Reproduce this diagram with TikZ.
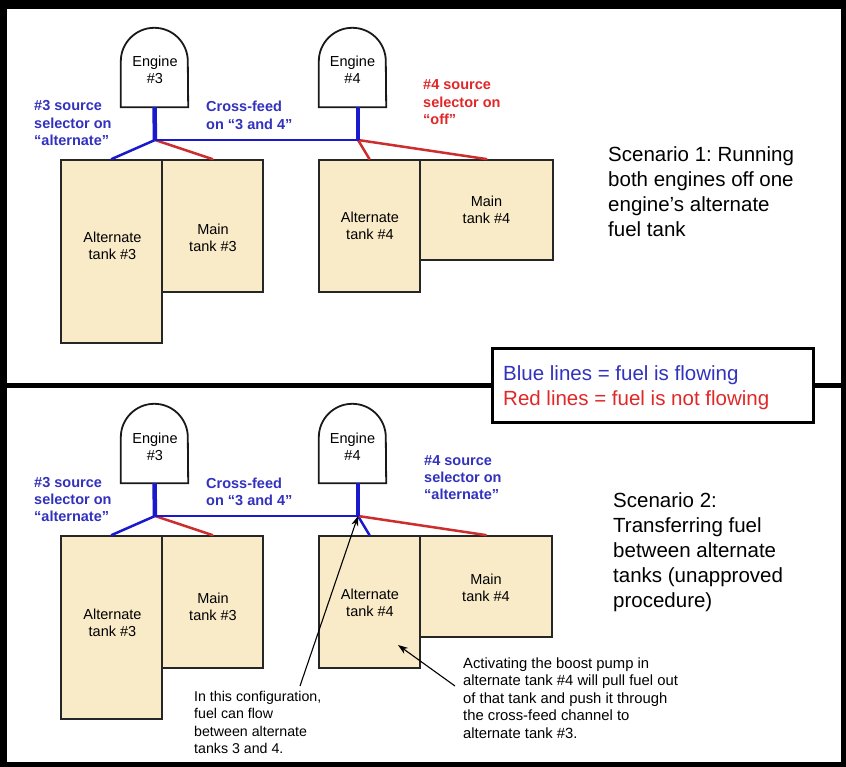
\documentclass[tikz,border=0pt]{standalone}
\usepackage{fontspec}
\setmainfont{Liberation Sans}
\usetikzlibrary{arrows.meta}
\definecolor{tankfill}{RGB}{250,235,200}
\definecolor{flowblue}{RGB}{25,25,205}
\definecolor{labelblue}{RGB}{50,50,190}
\definecolor{noflowred}{RGB}{205,45,45}
\definecolor{labelred}{RGB}{225,40,40}
\newcommand\ctext[1]{\vtop{\halign{\hfil##\hfil\cr#1\crcr}}}
\newcommand\ltext[1]{\vtop{\halign{##\hfil\cr#1\crcr}}}
\tikzset{
  tankbox/.style={draw=black!85, line width=1.8pt, fill=tankfill, inner sep=0pt},
  enginebody/.style={inner sep=0pt, minimum width=67pt, minimum height=45.5pt},
  engineline/.style={draw=black!90, line width=1.8pt, fill=white},
  engtext/.style={inner sep=0pt, anchor=base, font=\fontsize{14.5}{17}\selectfont},
  tanktext/.style={inner sep=0pt, anchor=base, font=\fontsize{14.5}{17}\selectfont},
  bluelabel/.style={inner sep=0pt, anchor=base west, text=labelblue, font=\fontsize{14.5}{17.3}\selectfont\bfseries},
  redlabel/.style={inner sep=0pt, anchor=base west, text=labelred, font=\fontsize{14.5}{17.3}\selectfont\bfseries},
  bigtext/.style={inner sep=0pt, anchor=base west, font=\fontsize{20.5}{25}\selectfont},
  notetext/.style={inner sep=0pt, anchor=base west, font=\fontsize{14.2}{17.3}\selectfont},
  notetextb/.style={inner sep=0pt, anchor=base west, font=\fontsize{14.8}{17.6}\selectfont},
  flowthick/.style={draw=flowblue, line width=4.5pt},
  flow/.style={draw=flowblue, line width=2.5pt, line cap=round},
  noflow/.style={draw=noflowred, line width=2.5pt, line cap=round},
  pointer/.style={draw=black, line width=1.1pt, -{Stealth[length=10pt,width=7pt]}},
}
\begin{document}
\frenchspacing
\begin{tikzpicture}[x=1pt,y=-1pt]
\useasboundingbox (0,0) rectangle (846,767);
% frame
\fill[black] (0,0) rectangle (846,767);
\fill[white] (7,9) rectangle (841,762);
\fill[black] (7,382.5) rectangle (841,388);

% ================= TOP PANEL =================
\coordinate (j3) at (155,140);
\coordinate (j4) at (358,140);
\node[tankbox, minimum width=101pt, minimum height=183pt] (alt3t) at (111.5,251.5) {};
\node[tankbox, minimum width=101pt, minimum height=132pt] (main3t) at (212.5,226) {};
\node[tankbox, minimum width=101pt, minimum height=132pt] (alt4t) at (369.5,226) {};
\node[tankbox, minimum width=133pt, minimum height=100pt] (main4t) at (486.5,210) {};
\draw[flow] (j3) -- (alt3t.north);
\draw[noflow] (j3) -- (main3t.north);
\draw[noflow] (j4) -- (alt4t.north);
\draw[noflow] (j4) -- (main4t.north);
\draw[flow] (j3) -- (j4);
\node[enginebody] (e3) at (154.5,84.25) {};
\node[enginebody] (e4) at (352.5,84.25) {};
\draw[engineline] (e3.south west) -- (e3.north west) arc[start angle=180, end angle=0, radius=33.5pt] -- (e3.south east) -- cycle;
\draw[engineline] (e4.south west) -- (e4.north west) arc[start angle=180, end angle=0, radius=33.5pt] -- (e4.south east) -- cycle;
\draw[flowthick] (e3.south) -- (j3);
\draw[flowthick] (e4.south -| j4) -- (j4);
\node[engtext] (e3lab) at (155,67) {\ctext{Engine\cr\#3}};
\node[engtext] (e4lab) at (352.5,67) {\ctext{Engine\cr\#4}};
\node[tanktext] (alt3tlab) at (112.5,243) {\ctext{Alternate\cr tank \#3}};
\node[tanktext] (main3tlab) at (213,235) {\ctext{Main\cr tank \#3}};
\node[tanktext] (alt4tlab) at (370,223) {\ctext{Alternate\cr tank \#4}};
\node[tanktext] (main4tlab) at (486.5,207) {\ctext{Main\cr tank \#4}};
\node[bluelabel] (sel3t) at (34,111) {\ltext{\#3 source\cr selector on\cr “alternate”}};
\node[bluelabel] (xfeedt) at (206,112) {\ltext{Cross-feed\cr on “3 and 4”}};
\node[redlabel] (sel4t) at (423,90) {\ltext{\#4 source\cr selector on\cr “off”}};
\node[bigtext] (scen1) at (608,162) {\ltext{Scenario 1: Running\cr both engines off one\cr engine’s alternate\cr fuel tank}};

% legend
\node[draw=black, line width=3pt, fill=white, minimum width=321pt, minimum height=74pt, inner sep=0pt] (legend) at (652.5,385) {};
\node[bigtext] (legtext) at (503,380) {\ltext{\textcolor{labelblue}{Blue lines = fuel is flowing}\cr\textcolor{labelred}{Red lines = fuel is not flowing}}};

% ================= BOTTOM PANEL =================
\coordinate (j3b) at (155,516);
\coordinate (j4b) at (358,516);
\node[tankbox, minimum width=101pt, minimum height=183pt] (alt3b) at (111.5,627.5) {};
\node[tankbox, minimum width=101pt, minimum height=132pt] (main3b) at (212.5,602) {};
\node[tankbox, minimum width=101pt, minimum height=132pt] (alt4b) at (369.5,602) {};
\node[tankbox, minimum width=132pt, minimum height=101pt] (main4b) at (486,586.5) {};
\draw[flow] (j3b) -- (alt3b.north);
\draw[noflow] (j3b) -- (main3b.north);
\draw[flow] (j4b) -- (alt4b.north);
\draw[noflow] (j4b) -- (main4b.north);
\draw[flow] (j3b) -- (j4b);
\node[enginebody] (e3b) at (154.5,460.25) {};
\node[enginebody] (e4b) at (352.5,460.25) {};
\draw[engineline] (e3b.south west) -- (e3b.north west) arc[start angle=180, end angle=0, radius=33.5pt] -- (e3b.south east) -- cycle;
\draw[engineline] (e4b.south west) -- (e4b.north west) arc[start angle=180, end angle=0, radius=33.5pt] -- (e4b.south east) -- cycle;
\draw[flowthick] (e3b.south) -- (j3b);
\draw[flowthick] (e4b.south -| j4b) -- (j4b);
\node[engtext] (e3blab) at (155,443) {\ctext{Engine\cr\#3}};
\node[engtext] (e4blab) at (352.5,443) {\ctext{Engine\cr\#4}};
\node[tanktext] (alt3blab) at (112.5,619) {\ctext{Alternate\cr tank \#3}};
\node[tanktext] (main3blab) at (213,603) {\ctext{Main\cr tank \#3}};
\node[tanktext] (alt4blab) at (370,599) {\ctext{Alternate\cr tank \#4}};
\node[tanktext] (main4blab) at (486,584) {\ctext{Main\cr tank \#4}};
\node[bluelabel] (sel3b) at (34,487) {\ltext{\#3 source\cr selector on\cr “alternate”}};
\node[bluelabel] (xfeedb) at (206,488) {\ltext{Cross-feed\cr on “3 and 4”}};
\node[bluelabel] (sel4b) at (424,465) {\ltext{\#4 source\cr selector on\cr “alternate”}};
\node[bigtext] (scen2) at (613,507) {\ltext{Scenario 2:\cr Transferring fuel\cr between alternate\cr tanks (unapproved\cr procedure)}};

\node[notetext] (note1) at (194,701.5) {\ltext{In this configuration,\cr fuel can flow\cr between alternate\cr tanks 3 and 4.}};
\node[notetextb] (note2) at (463,668) {\ltext{Activating the boost pump in\cr alternate tank \#4 will pull fuel out\cr of that tank and push it through\cr the cross-feed channel to\cr alternate tank \#3.}};
\coordinate (n1tail) at (300,686);
\coordinate (n2tail) at (455,686);
\coordinate (n2head) at (398,645);
\draw[pointer] (n1tail) -- (j4b);
\draw[pointer] (n2tail) -- (n2head);
\end{tikzpicture}
\end{document}
